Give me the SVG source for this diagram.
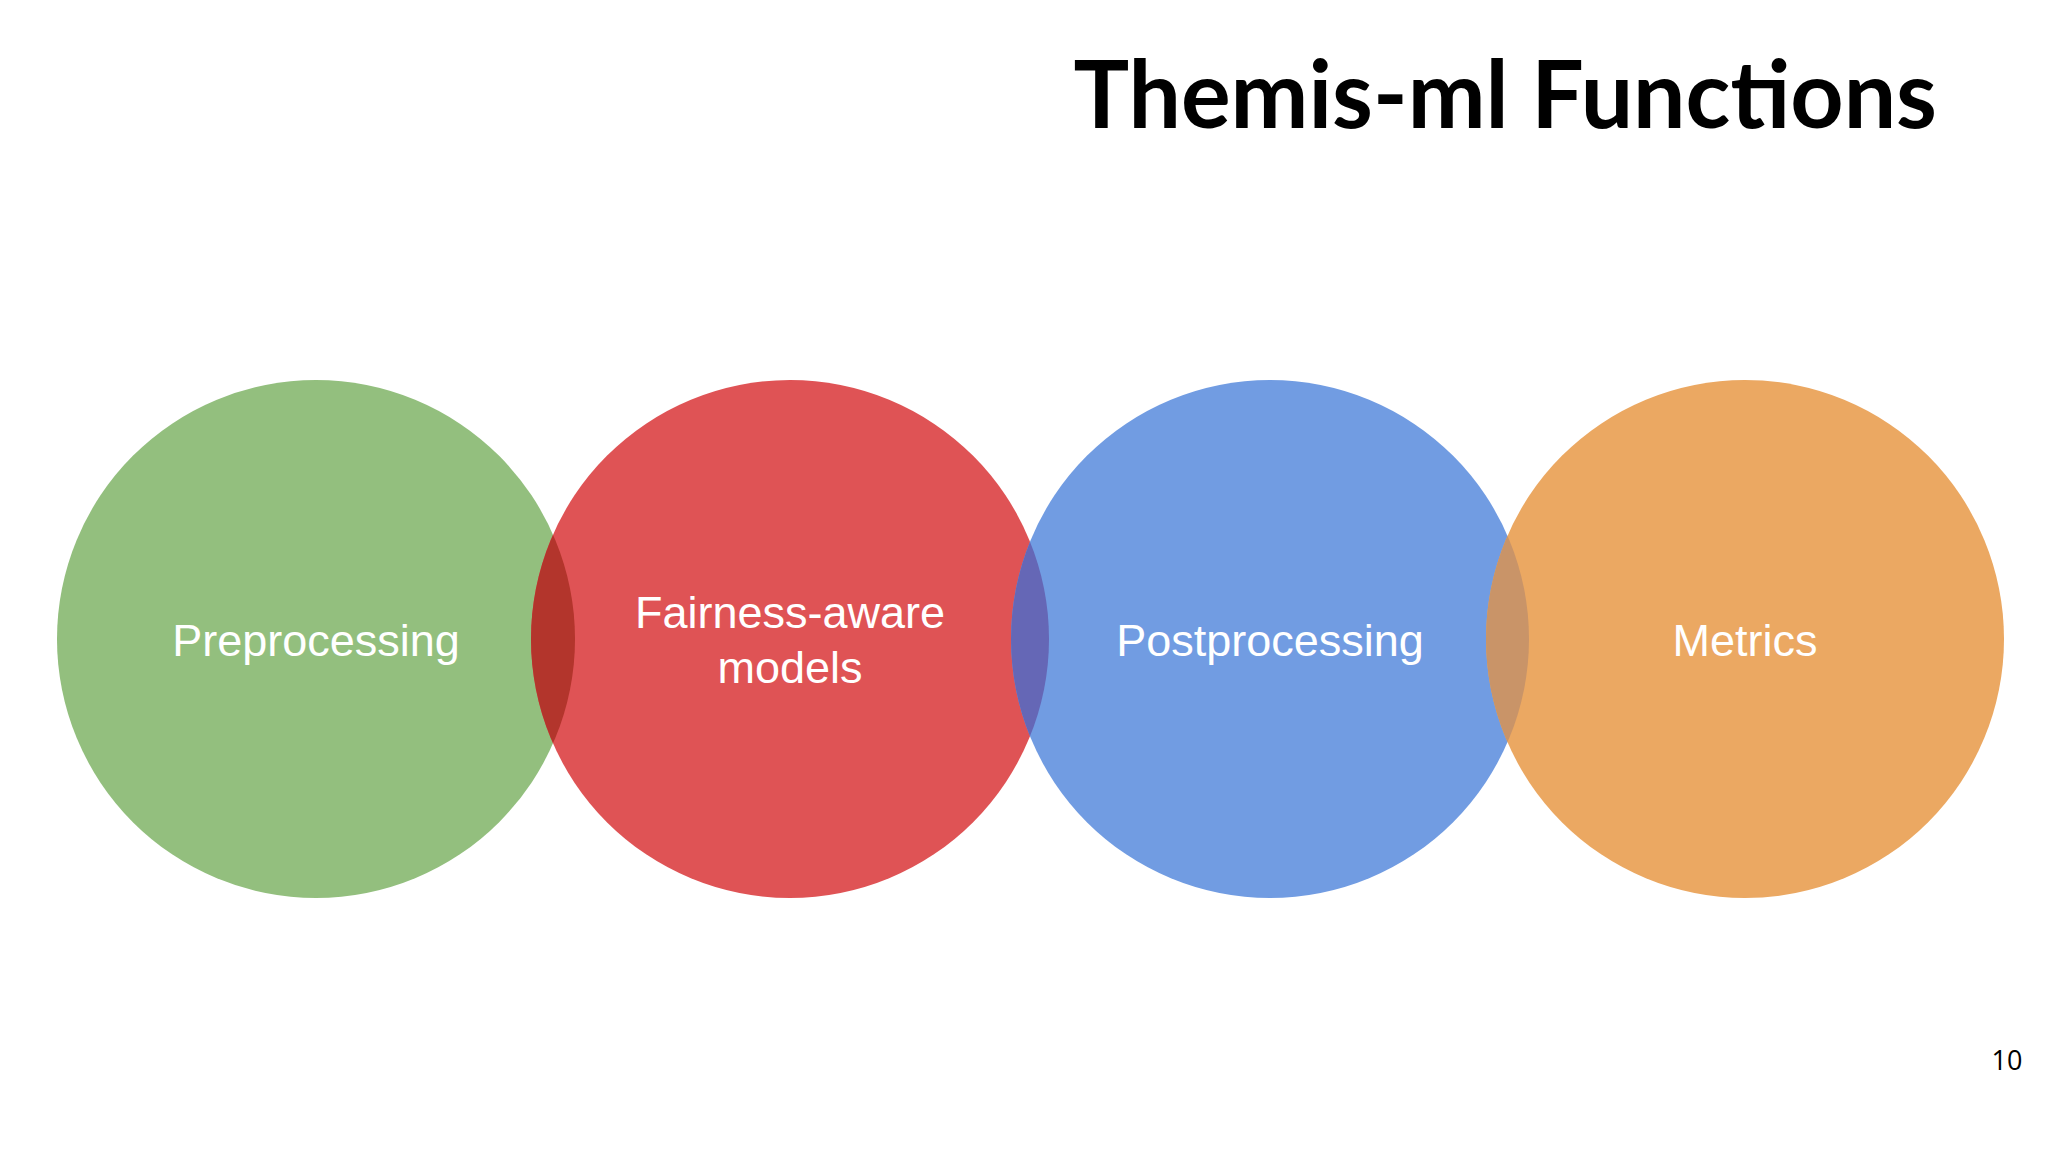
<svg xmlns="http://www.w3.org/2000/svg" width="2048" height="1152" viewBox="0 0 2048 1152">
<style>
.lbl{font-family:"Liberation Sans",Arial,sans-serif;font-size:45px;fill:#ffffff;text-anchor:middle}
</style>
<defs>
<clipPath id="cg"><circle cx="316" cy="639" r="259"/></clipPath>
<clipPath id="cr"><circle cx="790" cy="639" r="259"/></clipPath>
<clipPath id="cb"><circle cx="1270" cy="639" r="259"/></clipPath>
</defs>
<rect width="2048" height="1152" fill="#ffffff"/>
<text x="1937" y="128" text-anchor="end" font-family="Lato,'Noto Sans',sans-serif" font-weight="bold" font-size="93" fill="#000">Themis-ml Functions</text>
<g id="preprocessing"><circle cx="316" cy="639" r="259" fill="#93bf7e"/></g>
<g id="fairness"><circle cx="790" cy="639" r="259" fill="#df5355"/></g>
<g id="postprocessing"><circle cx="1270" cy="639" r="259" fill="#719ce2"/></g>
<g id="metrics"><circle cx="1745" cy="639" r="259" fill="#eba862"/></g>
<g id="overlaps">
<circle cx="790" cy="639" r="259" fill="#b3352c" clip-path="url(#cg)"/>
<circle cx="1270" cy="639" r="259" fill="#6567b6" clip-path="url(#cr)"/>
<circle cx="1745" cy="639" r="259" fill="#c99468" clip-path="url(#cb)"/>
</g>
<text class="lbl" x="316" y="656">Preprocessing</text>
<text class="lbl" x="790" y="628">Fairness-aware</text>
<text class="lbl" x="790" y="683">models</text>
<text class="lbl" x="1270" y="656">Postprocessing</text>
<text class="lbl" x="1745" y="656">Metrics</text>
<text x="2007" y="1070" text-anchor="middle" font-family="'Open Sans','Noto Sans',sans-serif" font-size="27" fill="#000">10</text>
</svg>
